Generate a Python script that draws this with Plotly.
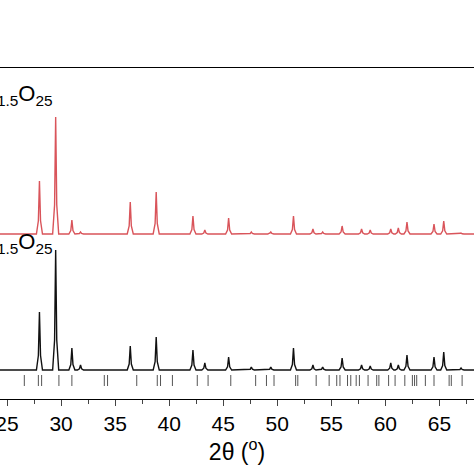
import plotly.graph_objects as go

# peak positions (2theta) and heights
peak_pos = [28.0, 29.5, 31.0, 31.8, 36.4, 38.8, 42.2, 43.3, 45.5, 47.6, 49.4, 51.5, 53.3, 54.2,
            56.0, 57.8, 58.6, 60.5, 61.2, 62.0, 64.5, 65.4, 67.0]
black_h = [58, 120, 22, 5, 24, 33, 20, 7, 13, 3, 3, 22, 5, 3, 12, 5, 4, 7, 5, 15, 13, 18, 2]
red_h = [53, 117, 14, 2, 32, 42, 18, 4, 16, 2, 2, 18, 5, 2, 8, 5, 4, 5, 6, 12, 10, 13, 1]
black_base = 29
red_base = 165
ref_pos = [26.6, 27.9, 28.2, 29.8, 31.0, 34.0, 34.3, 37.0, 38.9, 39.2, 40.3, 42.6, 43.6, 45.7,
           48.0, 49.0, 49.7, 51.7, 51.9, 53.6, 54.8, 55.5, 55.8, 56.5, 56.8, 57.3, 57.6, 58.4,
           59.2, 59.4, 60.3, 60.9, 61.8, 62.5, 62.7, 62.9, 63.7, 64.5, 65.9, 66.1, 67.1]


def profile(base, heights):
    xs, ys = [22.0], [base]
    for p, h in zip(peak_pos, heights):
        xs += [p - 0.28, p - 0.1, p - 0.04, p, p + 0.04, p + 0.1, p + 0.28]
        ys += [base, base + h * 0.25, base + h * 0.7, base + h, base + h * 0.7, base + h * 0.25, base]
    xs.append(70.0)
    ys.append(base)
    return xs, ys


fig = go.Figure()
bx, by = profile(black_base, black_h)
rx, ry = profile(red_base, red_h)
fig.add_trace(go.Scatter(x=rx, y=ry, mode="lines", line=dict(color="#d9545a", width=1.4)))
fig.add_trace(go.Scatter(x=bx, y=by, mode="lines", line=dict(color="#111111", width=1.4)))

tx, ty = [], []
for p in ref_pos:
    tx += [p, p, None]
    ty += [13, 24, None]
fig.add_trace(go.Scatter(x=tx, y=ty, mode="lines", line=dict(color="#555555", width=1)))

for ylab in [304, 156]:
    fig.add_annotation(x=0.116, y=ylab, xref="paper", yref="y", xanchor="right", showarrow=False,
                       text="Ba<sub>1.5</sub>O<sub>25</sub>", font=dict(size=22, color="black"))

fig.update_layout(
    width=474, height=474, showlegend=False,
    margin=dict(l=0, r=0, t=68, b=75),
    plot_bgcolor="white", paper_bgcolor="white",
    font=dict(family="Liberation Sans, Arial", size=21, color="black"),
    xaxis=dict(range=[24.35, 68.2], dtick=5, ticks="outside", ticklen=6, linecolor="black",
               showline=True, mirror=True, showgrid=False, zeroline=False, automargin=False,
               ticklabeloverflow="allow",
               minor=dict(dtick=2.5, ticks="outside", ticklen=4),
               title=dict(text="2θ (<sup>o</sup>)", standoff=0, font=dict(size=23))),
    yaxis=dict(range=[0, 331], visible=False, automargin=False),
)
fig.write_html("out.html", post_script="document.body.style.margin='0';",
               config=dict(displayModeBar=False))
